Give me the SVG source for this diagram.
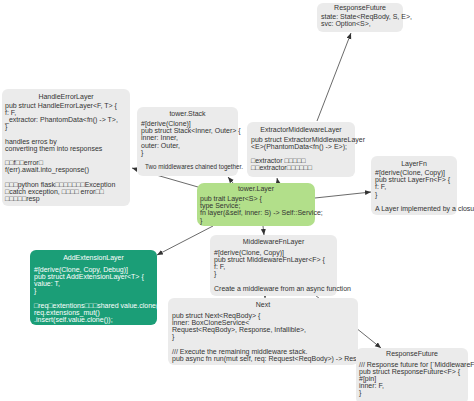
<svg xmlns="http://www.w3.org/2000/svg" width="474" height="401" viewBox="0 0 474 401">
<defs>
<marker id="ah" markerWidth="7" markerHeight="6" refX="6" refY="2.5" orient="auto" markerUnits="userSpaceOnUse">
<path d="M0,0 L6,2.5 L0,5 z" fill="#333"/>
</marker>
<style>
.box{fill:#ebebeb;stroke:none}
.t{font-family:"Liberation Sans",Arial,sans-serif;font-size:7px;fill:#333333}
.c{text-anchor:middle}
.w{fill:#ffffff}
.e{stroke:#444;stroke-width:0.8;fill:none;marker-end:url(#ah)}
</style>
</defs>
<rect width="474" height="401" fill="#ffffff"/>
<g id="connectors">
<line class="e" x1="317" y1="121" x2="351" y2="33"/>
<line class="e" x1="233" y1="183" x2="228" y2="177"/>
<line class="e" x1="278" y1="183" x2="277" y2="178"/>
<line class="e" x1="198" y1="187" x2="132" y2="168"/>
<line class="e" x1="315" y1="198" x2="371" y2="192"/>
<line class="e" x1="213" y1="226" x2="157" y2="255"/>
<line class="e" x1="263" y1="226" x2="264" y2="235"/>
<line class="e" x1="265" y1="296" x2="265" y2="298"/>
<line class="e" x1="315" y1="295" x2="381" y2="348"/>
</g>
<g id="ResponseFutureTop">
<rect class="box" x="317" y="3" width="86" height="29" rx="6"/>
<text class="t c" x="360" y="10">ResponseFuture</text>
<text class="t" x="321" y="19">state: State&lt;ReqBody, S, E&gt;,<tspan x="321" dy="7.2">svc: Option&lt;S&gt;,</tspan></text>
</g>
<g id="HandleErrorLayer">
<rect class="box" x="2" y="89" width="128" height="117" rx="6"/>
<text class="t c" x="66" y="98.5">HandleErrorLayer</text>
<text class="t" x="5" y="107.5">pub struct HandleErrorLayer&lt;F, T&gt; {<tspan x="5" dy="7.2">f: F,</tspan><tspan x="5" dy="7.2">_extractor: PhantomData&lt;fn() -&gt; T&gt;,</tspan><tspan x="5" dy="7.2">}</tspan><tspan x="5" dy="14.4">handles erros by</tspan><tspan x="5" dy="7.2">converting them into responses</tspan><tspan x="5" dy="14.4">□□f□□error□</tspan><tspan x="5" dy="7.2">f(err).await.into_response()</tspan><tspan x="5" dy="14.4">□□□python flask□□□□□□□Exception</tspan><tspan x="5" dy="7.2">□catch exception, □□□□ error□□</tspan><tspan x="5" dy="7.2">□□□□□resp</tspan></text>
</g>
<g id="TowerStack">
<rect class="box" x="137" y="107" width="101" height="69" rx="6"/>
<text class="t c" x="187.5" y="115.5">tower.Stack</text>
<text class="t" x="141" y="126">#[derive(Clone)]<tspan x="141" dy="7.2">pub struct Stack&lt;Inner, Outer&gt; {</tspan><tspan x="141" dy="7.2">inner: Inner,</tspan><tspan x="141" dy="7.2">outer: Outer,</tspan><tspan x="141" dy="7.2">}</tspan></text>
<text class="t" x="145" y="169.2" textLength="98" lengthAdjust="spacingAndGlyphs">Two middlewares chained together.</text>
</g>
<g id="ExtractorMiddlewareLayer">
<rect class="box" x="247" y="122" width="108" height="55" rx="6"/>
<text class="t c" x="301" y="131.5">ExtractorMiddlewareLayer</text>
<text class="t" x="251" y="141.5">pub struct ExtractorMiddlewareLayer<tspan x="251" dy="7.2">&lt;E&gt;(PhantomData&lt;fn() -&gt; E&gt;);</tspan><tspan x="251" dy="14.4">□extractor □□□□□</tspan><tspan x="251" dy="7.2">□□extractor□□□□□□</tspan></text>
</g>
<g id="LayerFn">
<rect class="box" x="371" y="156" width="86" height="59" rx="6"/>
<text class="t c" x="414" y="165.5">LayerFn</text>
<text class="t" x="375" y="175">#[derive(Clone, Copy)]<tspan x="375" dy="7.2">pub struct LayerFn&lt;F&gt; {</tspan><tspan x="375" dy="7.2">f: F,</tspan><tspan x="375" dy="7.2">}</tspan><tspan x="375" dy="14.4">A Layer implemented by a closure</tspan></text>
</g>
<g id="TowerLayer">
<rect x="197" y="183" width="118" height="43" rx="7" fill="#b2df8a"/>
<text class="t c" x="256" y="190.5">tower.Layer</text>
<text class="t" x="200" y="201">pub trait Layer&lt;S&gt; {<tspan x="200" dy="7.2">type Service;</tspan><tspan x="200" dy="7.2">fn layer(&amp;self, inner: S) -&gt; Self::Service;</tspan><tspan x="200" dy="7.2">}</tspan></text>
</g>
<g id="AddExtensionLayer">
<rect x="30" y="250" width="127" height="75" rx="6" fill="#1b9e77"/>
<text class="t c w" x="93.5" y="259.5">AddExtensionLayer</text>
<text class="t w" x="34" y="271.5">#[derive(Clone, Copy, Debug)]<tspan x="34" dy="7.2">pub struct AddExtensionLayer&lt;T&gt; {</tspan><tspan x="34" dy="7.2">value: T,</tspan><tspan x="34" dy="7.2">}</tspan><tspan x="34" dy="14.4">□req□extentions□□□shared value.clone()</tspan><tspan x="34" dy="7.2">req.extensions_mut()</tspan><tspan x="34" dy="7.2">.insert(self.value.clone());</tspan></text>
</g>
<g id="MiddlewareFnLayer">
<rect class="box" x="210" y="235" width="127" height="61" rx="6"/>
<text class="t c" x="273.5" y="244">MiddlewareFnLayer</text>
<text class="t" x="214" y="254.5">#[derive(Clone, Copy)]<tspan x="214" dy="7.2">pub struct MiddlewareFnLayer&lt;F&gt; {</tspan><tspan x="214" dy="7.2">f: F,</tspan><tspan x="214" dy="7.2">}</tspan><tspan x="214" dy="14.4">Create a middleware from an async function</tspan></text>
</g>
<g id="Next">
<rect class="box" x="168" y="298" width="190" height="67" rx="6"/>
<text class="t c" x="263" y="306.5">Next</text>
<text class="t" x="172" y="317.5">pub struct Next&lt;ReqBody&gt; {<tspan x="172" dy="7.2">inner: BoxCloneService&lt;</tspan><tspan x="172" dy="7.2">Request&lt;ReqBody&gt;, Response, Infallible&gt;,</tspan><tspan x="172" dy="7.2">}</tspan><tspan x="172" dy="14.4">/// Execute the remaining middleware stack.</tspan><tspan x="172" dy="7.2">pub async fn run(mut self, req: Request&lt;ReqBody&gt;) -&gt; Response {</tspan></text>
</g>
<g id="ResponseFutureBottom">
<rect class="box" x="356" y="348" width="112" height="56" rx="6"/>
<text class="t c" x="412" y="356">ResponseFuture</text>
<text class="t" x="359" y="366.5">/// Response future for [`MiddlewareFn`].<tspan x="359" dy="7.2">pub struct ResponseFuture&lt;F&gt; {</tspan><tspan x="359" dy="7.2">#[pin]</tspan><tspan x="359" dy="7.2">inner: F,</tspan><tspan x="359" dy="7.2">}</tspan></text>
</g>
</svg>
